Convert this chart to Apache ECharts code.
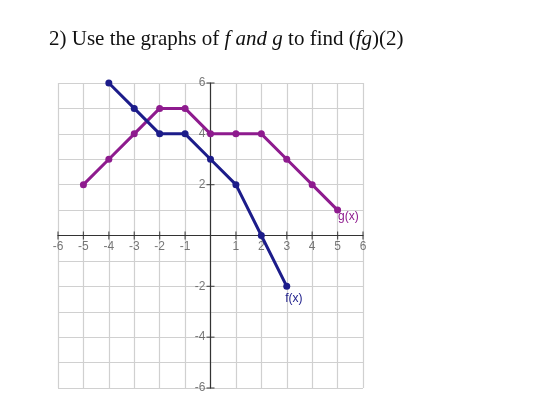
<!DOCTYPE html>
<html><head><meta charset="utf-8">
<script src="https://cdn.jsdelivr.net/npm/echarts@6/dist/echarts.min.js"></script>
<style>html,body{margin:0;background:#fff}#c{width:552px;height:401px}</style>
</head><body><div id="c"></div>
<script>
const fX=[-4,-3,-2,-1,0,1,2,3];
const fY=[6,5,4,4,3,2,0,-2];
const gX=[-5,-4,-3,-2,-1,0,1,2,3,4,5];
const gY=[2,3,4,5,5,4,4,4,3,2,1];
const xTickLabels=[-6,-5,-4,-3,-2,-1,1,2,3,4,5,6];
const yTickLabels=[-6,-4,-2,2,4,6];
const chart=echarts.init(document.getElementById('c'));
const axisCommon={type:'value',min:-6,max:6,interval:1,
  axisLine:{onZero:true,lineStyle:{color:'#333',width:1.2}},
  splitLine:{show:true,lineStyle:{color:'#d0d0d0',width:1.2}},
  axisTick:{show:false},axisLabel:{show:false}};
const lbl={color:'#555',fontSize:12,fontFamily:'Liberation Sans'};
chart.setOption({
  animation:false,
  title:{text:'{n|2) Use the graphs of }{i|f and g}{n| to find (}{i|fg}{n|)(2)}',left:44,top:24,
    textStyle:{rich:{n:{fontFamily:'Liberation Serif',fontWeight:'normal',fontSize:21,color:'#111'},i:{fontFamily:'Liberation Serif',fontWeight:'normal',fontStyle:'italic',fontSize:21,color:'#111'}}}},
  grid:{left:58,right:189,top:83,bottom:13},
  xAxis:axisCommon,
  yAxis:axisCommon,
  series:[
    {type:'scatter',symbol:'rect',symbolSize:[1.2,8],itemStyle:{color:'#333'},silent:true,
      data:xTickLabels.map(v=>[v,0]),
      label:{show:true,position:'bottom',distance:1,formatter:p=>String(p.value[0]),...lbl}},
    {type:'scatter',symbol:'rect',symbolSize:[8,1.2],itemStyle:{color:'#333'},silent:true,
      data:yTickLabels.map(v=>[0,v]),
      label:{show:true,position:'left',distance:1,formatter:p=>String(p.value[1]),...lbl}},
    {type:'line',data:gX.map((x,i)=>[x,gY[i]]),color:'#8e1b8e',symbol:'circle',symbolSize:7,
      lineStyle:{width:3},itemStyle:{color:'#8e1b8e'},
      label:{show:true,formatter:p=>p.dataIndex===gX.length-1?'g(x)':'',position:[4,4],color:'#8e1b8e',fontSize:12,fontFamily:'Liberation Sans'}},
    {type:'line',data:fX.map((x,i)=>[x,fY[i]]),color:'#1c1c8a',symbol:'circle',symbolSize:7,
      lineStyle:{width:3},itemStyle:{color:'#1c1c8a'},
      label:{show:true,formatter:p=>p.dataIndex===fX.length-1?'f(x)':'',position:[2,10],color:'#1c1c8a',fontSize:12,fontFamily:'Liberation Sans'}}
  ]
});
</script></body></html>
